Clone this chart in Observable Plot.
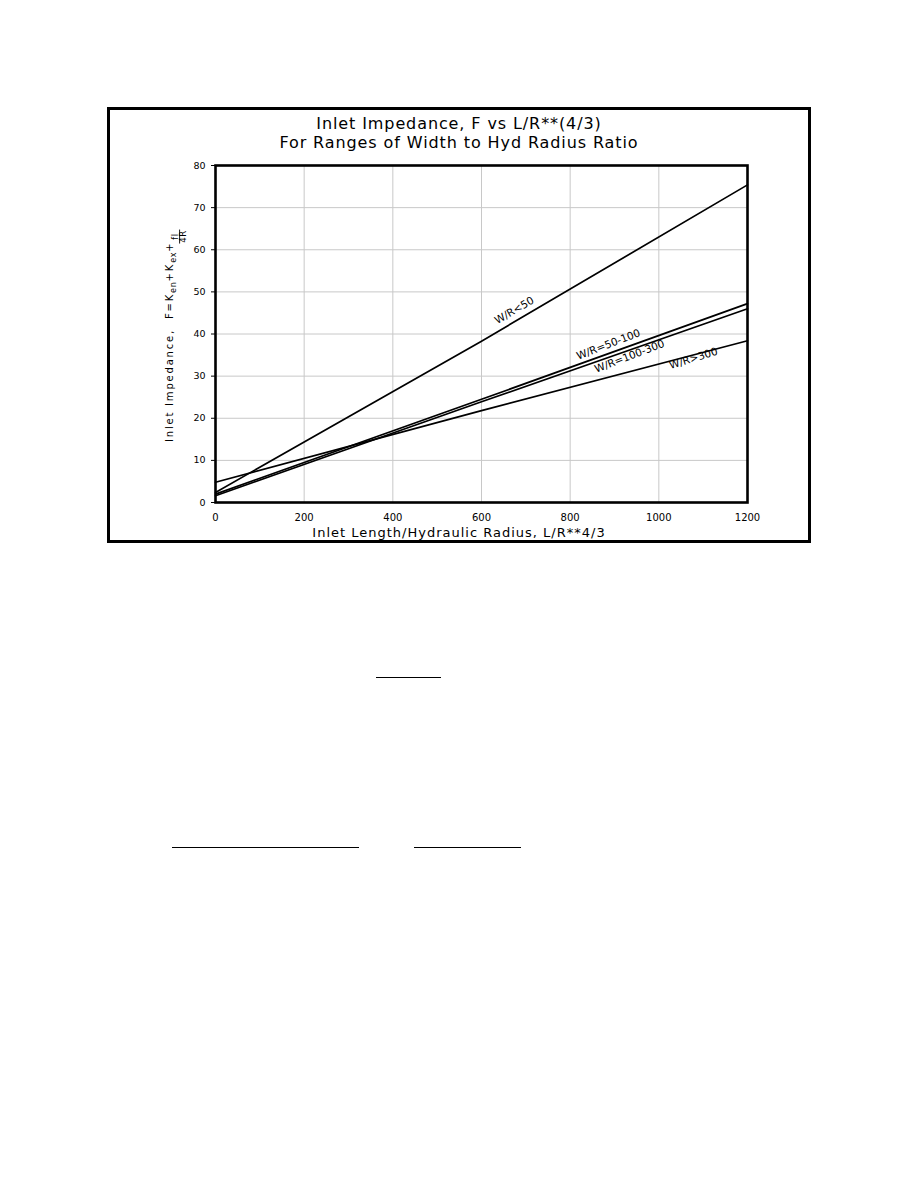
<!DOCTYPE html>
<html>
<head>
<meta charset="utf-8">
<script src="https://cdn.jsdelivr.net/npm/d3@7"></script>
<script src="https://cdn.jsdelivr.net/npm/@observablehq/plot@0.6"></script>
<style>
  html, body { margin: 0; padding: 0; background: #fff; }
  body { width: 918px; height: 1188px; position: relative; font-family: "DejaVu Sans", sans-serif; color: #000; }
  #box { position: absolute; left: 107px; top: 107px; width: 704px; height: 436px; border: 3px solid #000; box-sizing: border-box; }
  #chart { position: absolute; left: 0; top: 0; }
  #title { position: absolute; left: 0; right: 0; top: 4px; text-align: center; font-size: 16px; line-height: 19px; letter-spacing: 0.9px; }
  #xlabel { position: absolute; left: 0; right: 0; top: 415px; text-align: center; font-size: 13px; line-height: 15px; letter-spacing: 1px; }
  .rule { position: absolute; height: 0; border-top: 1.5px solid #000; }
</style>
</head>
<body>
<div id="box">
  <div id="chart"></div>
  <div id="title">Inlet Impedance, F vs L/R**(4/3)<br>For Ranges of Width to Hyd Radius Ratio</div>
  <div id="xlabel">Inlet Length/Hydraulic Radius, L/R**4/3</div>
</div>
<div class="rule" style="left:376px; top:677px; width:65px;"></div>
<div class="rule" style="left:172px; top:847px; width:187px;"></div>
<div class="rule" style="left:414px; top:847px; width:107px;"></div>
<script>
// ---- data ----
const seriesNames = ["W/R<50", "W/R=50-100", "W/R=100-300", "W/R>300"];
const xValues = [0, 600, 1200];
const wrLt50 = [2.4, 38.3, 75.4];
const wr50to100 = [2.0, 24.5, 47.2];
const wr100to300 = [1.6, 23.9, 46.0];
const wrGt300 = [4.8, 21.8, 38.4];
const xTicks = [0, 200, 400, 600, 800, 1000, 1200];
const yTicks = [0, 10, 20, 30, 40, 50, 60, 70, 80];

// label anchors (data coordinates) and text angles
const labelX = [674, 886, 934, 1078];
const labelY = [45.6, 37.5, 34.7, 34.2];
const labelAngle = [-30, -21, -21, -17];

const seriesValues = [wrLt50, wr50to100, wr100to300, wrGt300];
const rows = [];
seriesNames.forEach((name, i) => {
  xValues.forEach((x, j) => rows.push({series: name, x, y: seriesValues[i][j]}));
});
const labels = seriesNames.map((name, i) => ({text: name, x: labelX[i], y: labelY[i], angle: labelAngle[i]}));

const chart = Plot.plot({
  width: 698,
  height: 430,
  marginLeft: 105,
  marginRight: 61,
  marginTop: 55,
  marginBottom: 38,
  style: {fontFamily: "DejaVu Sans, sans-serif", background: "transparent", color: "#000", overflow: "visible"},
  x: {domain: [0, 1200]},
  y: {domain: [0, 80]},
  marks: [
    Plot.gridX(xTicks, {stroke: "#c8c8c8", strokeOpacity: 1, strokeWidth: 1}),
    Plot.gridY(yTicks, {stroke: "#c8c8c8", strokeOpacity: 1, strokeWidth: 1}),
    Plot.axisX(xTicks, {tickSize: 0, tickPadding: 11, fontSize: 10, letterSpacing: "0.8px", label: null, tickFormat: d => String(d)}),
    Plot.axisY(yTicks, {tickSize: 4, tickPadding: 6, fontSize: 9.5, letterSpacing: "0.4px", label: null, tickFormat: d => String(d)}),
    Plot.line(rows, {x: "x", y: "y", z: "series", stroke: "#000", strokeWidth: 1.7}),
    Plot.frame({stroke: "#000", strokeWidth: 2.6}),
    Plot.text(labels, {x: "x", y: "y", text: "text", rotate: "angle", fontSize: 10.5, fill: "#000", letterSpacing: "0.4px"})
  ]
});
document.getElementById("chart").appendChild(chart);

// ---- rotated y-axis title with subscripts and fraction ----
const svg = d3.select(chart);
const g = svg.append("g")
  .attr("transform", `translate(${173 - 110}, ${442 - 110}) rotate(-90)`)
  .attr("fill", "#000")
  .attr("font-family", "DejaVu Sans, sans-serif");
const t = g.append("text").attr("x", 0).attr("y", 0).attr("text-anchor", "start")
  .attr("font-size", 10).attr("letter-spacing", "1.8px");
t.append("tspan").text("Inlet Impedance,  F=K");
t.append("tspan").attr("dy", 3).attr("font-size", 8).attr("letter-spacing", "0.8px").text("en");
t.append("tspan").attr("dy", -3).text("+K");
t.append("tspan").attr("dy", 3).attr("font-size", 8).attr("letter-spacing", "0.8px").text("ex");
t.append("tspan").attr("dy", -3).text("+");
const L = t.node().getComputedTextLength();
const fx = L + 5;
g.append("text").attr("x", fx).attr("y", 4.8).attr("text-anchor", "middle").attr("font-size", 8.5).attr("letter-spacing", "0.8px").text("fl");
g.append("line").attr("x1", fx - 7).attr("x2", fx + 7).attr("y1", 6.6).attr("y2", 6.6).attr("stroke", "#000").attr("stroke-width", 0.9);
g.append("text").attr("x", fx).attr("y", 13.2).attr("text-anchor", "middle").attr("font-size", 8.5).attr("letter-spacing", "0.6px").text("4R");
</script>
</body>
</html>
